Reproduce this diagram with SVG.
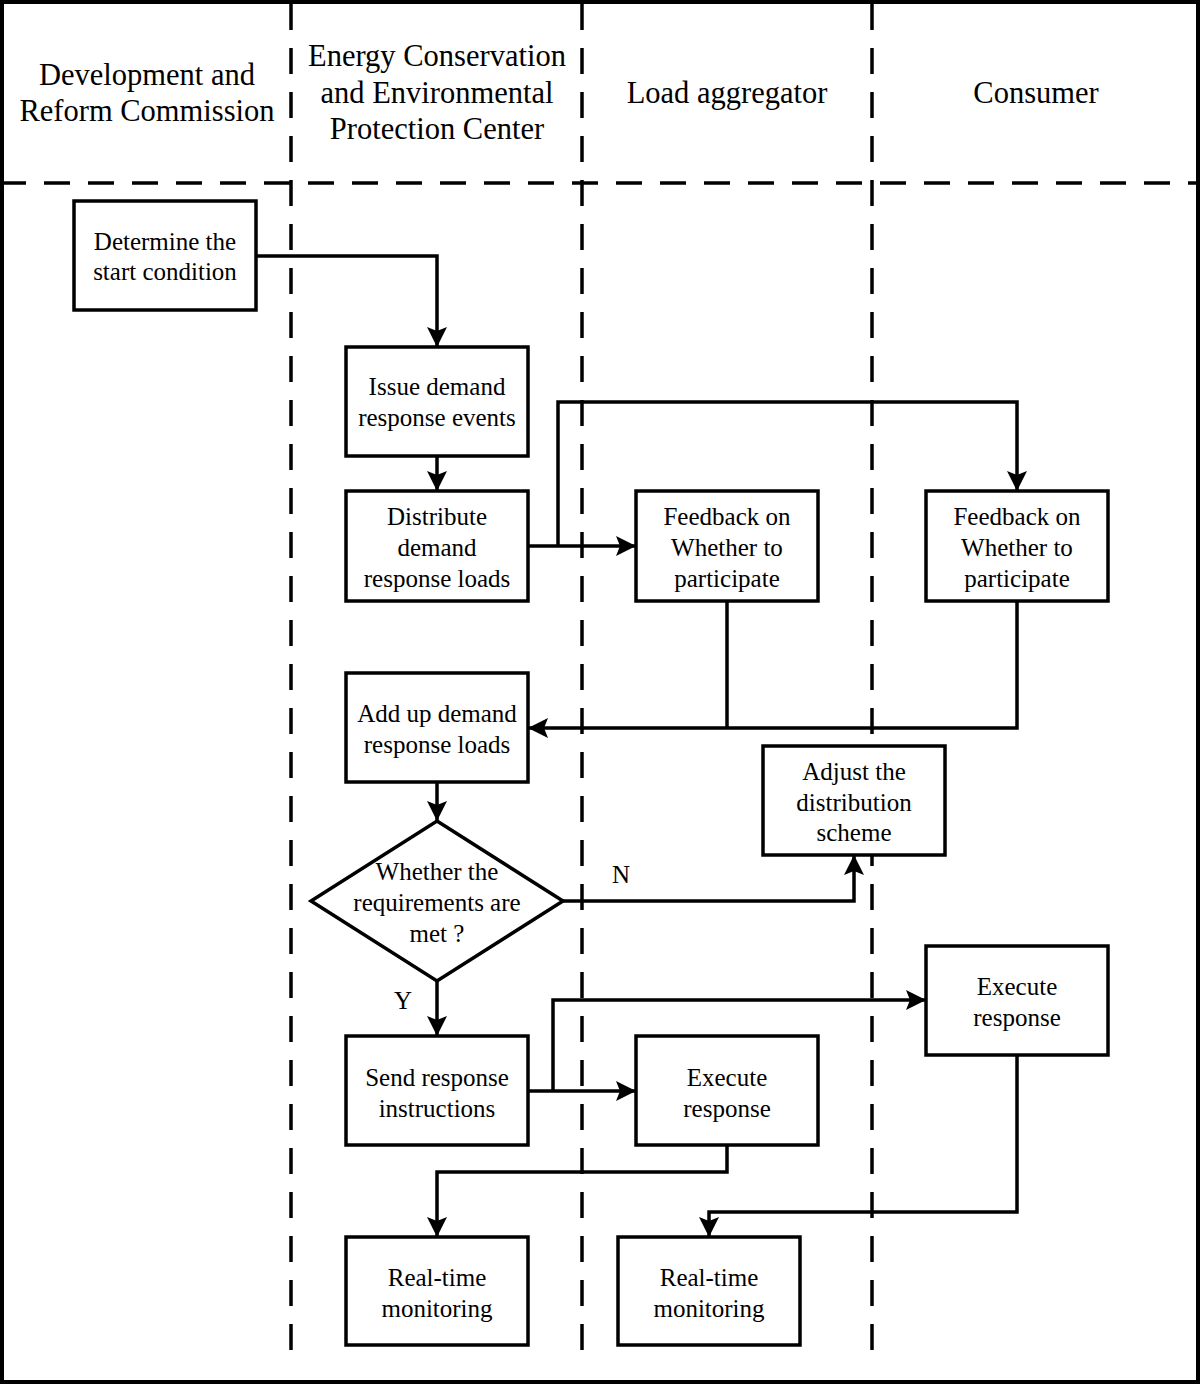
<svg xmlns="http://www.w3.org/2000/svg" width="1200" height="1384" viewBox="0 0 1200 1384">
<style>
text{font-family:"Liberation Serif","Times New Roman",serif;fill:#000;text-anchor:middle}
.h{font-size:30.5px}
.t{font-size:25px}
.box{fill:#fff;stroke:#000;stroke-width:3.5}
.lane{stroke:#000;stroke-width:3.5;stroke-dasharray:26 18;fill:none}
.c{fill:none;stroke:#000;stroke-width:3.5}
.a{marker-end:url(#arr)}
</style>
<defs>
<marker id="arr" markerUnits="userSpaceOnUse" markerWidth="22" markerHeight="20" refX="20" refY="10" orient="auto">
<path d="M0,0 L20,10 L0,20 L4,10 Z" fill="#000"/>
</marker>
</defs>
<rect x="0" y="0" width="1200" height="1384" fill="#fff"/>
<g id="lanes">
<line class="lane" x1="0" y1="183" x2="1198" y2="183"/>
<line class="lane" x1="291" y1="4" x2="291" y2="1368"/>
<line class="lane" x1="582" y1="4" x2="582" y2="1368"/>
<line class="lane" x1="872" y1="4" x2="872" y2="1368"/>
<rect x="2" y="2" width="1196" height="1380" fill="none" stroke="#000" stroke-width="4"/>
</g>
<g id="headers">
<text class="h" x="147" y="85">Development and</text>
<text class="h" x="147" y="121">Reform Commission</text>
<text class="h" x="437" y="66">Energy Conservation</text>
<text class="h" x="437" y="103">and Environmental</text>
<text class="h" x="437" y="139">Protection Center</text>
<text class="h" x="727" y="103">Load aggregator</text>
<text class="h" x="1036" y="103">Consumer</text>
</g>
<g id="connectors">
<polyline class="c a" points="256,256 437,256 437,347"/>
<polyline class="c a" points="437,456 437,491"/>
<polyline class="c a" points="528,546 636,546"/>
<polyline class="c a" points="558,546 558,402 1017,402 1017,491"/>
<polyline class="c" points="727,601 727,728"/>
<polyline class="c a" points="1017,601 1017,728 528,728"/>
<polyline class="c a" points="437,782 437,821"/>
<polyline class="c a" points="563,901 854,901 854,855"/>
<polyline class="c a" points="437,981 437,1036"/>
<polyline class="c a" points="528,1091 636,1091"/>
<polyline class="c a" points="553,1091 553,1000 926,1000"/>
<polyline class="c a" points="727,1145 727,1172 437,1172 437,1237"/>
<polyline class="c a" points="1017,1055 1017,1212 709,1212 709,1237"/>
<text class="t" x="621" y="883">N</text>
<text class="t" x="403" y="1009">Y</text>
</g>
<g id="n-start">
<rect class="box" x="74" y="201" width="182" height="109"/>
<text class="t" x="165" y="250">Determine the</text>
<text class="t" x="165" y="280">start condition</text>
</g>
<g id="n-issue">
<rect class="box" x="346" y="347" width="182" height="109"/>
<text class="t" x="437" y="395">Issue demand</text>
<text class="t" x="437" y="426">response events</text>
</g>
<g id="n-distribute">
<rect class="box" x="346" y="491" width="182" height="110"/>
<text class="t" x="437" y="525">Distribute</text>
<text class="t" x="437" y="556">demand</text>
<text class="t" x="437" y="587">response loads</text>
</g>
<g id="n-feedback-la">
<rect class="box" x="636" y="491" width="182" height="110"/>
<text class="t" x="727" y="525">Feedback on</text>
<text class="t" x="727" y="556">Whether to</text>
<text class="t" x="727" y="587">participate</text>
</g>
<g id="n-feedback-c">
<rect class="box" x="926" y="491" width="182" height="110"/>
<text class="t" x="1017" y="525">Feedback on</text>
<text class="t" x="1017" y="556">Whether to</text>
<text class="t" x="1017" y="587">participate</text>
</g>
<g id="n-addup">
<rect class="box" x="346" y="673" width="182" height="109"/>
<text class="t" x="437" y="722">Add up demand</text>
<text class="t" x="437" y="753">response loads</text>
</g>
<g id="n-adjust">
<rect class="box" x="763" y="746" width="182" height="109"/>
<text class="t" x="854" y="780">Adjust the</text>
<text class="t" x="854" y="811">distribution</text>
<text class="t" x="854" y="841">scheme</text>
</g>
<g id="n-decision">
<polygon class="box" points="437,821 563,901 437,981 311,901"/>
<text class="t" x="437" y="880">Whether the</text>
<text class="t" x="437" y="911">requirements are</text>
<text class="t" x="437" y="942">met ?</text>
</g>
<g id="n-send">
<rect class="box" x="346" y="1036" width="182" height="109"/>
<text class="t" x="437" y="1086">Send response</text>
<text class="t" x="437" y="1117">instructions</text>
</g>
<g id="n-exec-la">
<rect class="box" x="636" y="1036" width="182" height="109"/>
<text class="t" x="727" y="1086">Execute</text>
<text class="t" x="727" y="1117">response</text>
</g>
<g id="n-exec-c">
<rect class="box" x="926" y="946" width="182" height="109"/>
<text class="t" x="1017" y="995">Execute</text>
<text class="t" x="1017" y="1026">response</text>
</g>
<g id="n-rtm-ec">
<rect class="box" x="346" y="1237" width="182" height="108"/>
<text class="t" x="437" y="1286">Real-time</text>
<text class="t" x="437" y="1317">monitoring</text>
</g>
<g id="n-rtm-la">
<rect class="box" x="618" y="1237" width="182" height="108"/>
<text class="t" x="709" y="1286">Real-time</text>
<text class="t" x="709" y="1317">monitoring</text>
</g>
</svg>
